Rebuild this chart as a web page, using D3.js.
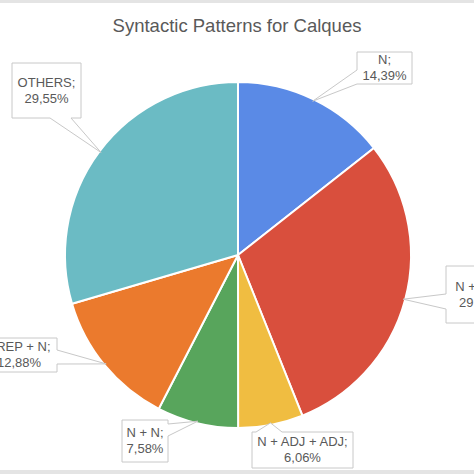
<!DOCTYPE html>
<html>
<head>
<meta charset="utf-8">
<script src="https://cdn.jsdelivr.net/npm/d3@7"></script>
<style>
  body { margin: 0; background: #fff; }
  svg { display: block; font-family: "Liberation Sans", Arial, sans-serif; }
</style>
</head>
<body>
<div id="chart"></div>
<script>
// data
var categories = ["N", "N + ADJ", "N + ADJ + ADJ", "N + N", "PREP + N", "OTHERS"];
var shares = [14.39, 29.54, 6.06, 7.58, 12.88, 29.55];
var colors = ["#5a8ae6", "#d94f3d", "#f0bd41", "#58a55c", "#eb7a2d", "#6bbbc4"];

// callout boxes (layout only): box x, y, w, h, side of tail, base start/end along that side
var callouts = [
  {x: 357, y: 52, w: 55, h: 32, side: "left", a: 70, b: 84},
  {x: 446, y: 266, w: 70, h: 57, side: "left", a: 294, b: 309},
  {x: 252, y: 432, w: 101, h: 36, side: "top", a: 256, b: 282},
  {x: 122, y: 420, w: 46, h: 42, side: "right", a: 424, b: 436},
  {x: -19, y: 338, w: 76, h: 34, side: "right", a: 350, b: 364},
  {x: 12, y: 63, w: 69, h: 55, side: "bottom", a: 50, b: 71}
];

var width = 474, height = 474;
var cx = 238, cy = 255, radius = 173;

var svg = d3.select("#chart").append("svg")
    .attr("width", width)
    .attr("height", height);

svg.append("rect").attr("width", width).attr("height", height).attr("fill", "#fff");
svg.append("rect").attr("x", 0).attr("y", 0).attr("width", width).attr("height", 3).attr("fill", "#e4e4e4");
svg.append("rect").attr("x", 0).attr("y", 470).attr("width", width).attr("height", 4).attr("fill", "#e4e4e4");

svg.append("text")
    .attr("x", 237)
    .attr("y", 32)
    .attr("text-anchor", "middle")
    .attr("font-size", "18.5px")
    .attr("fill", "#595959")
    .text("Syntactic Patterns for Calques");

var pie = d3.pie().sort(null).value(function(d) { return d; });
var arcs = pie(shares);

var arc = d3.arc().innerRadius(0).outerRadius(radius);
var edgeArc = d3.arc().innerRadius(radius - 2).outerRadius(radius - 2);

var g = svg.append("g").attr("transform", "translate(" + cx + "," + cy + ")");

g.selectAll("path.slice")
    .data(arcs).enter().append("path")
    .attr("class", "slice")
    .attr("d", arc)
    .attr("fill", function(d, i) { return colors[i]; })
    .attr("stroke", "#fff")
    .attr("stroke-width", 2)
    .attr("stroke-linejoin", "round");

// builds a rectangle outline with a pointer tail inserted on one side
function calloutPath(c, tx, ty) {
  var x0 = c.x, y0 = c.y, x1 = c.x + c.w, y1 = c.y + c.h;
  var p = [];
  p.push([x0, y0]);
  if (c.side == "top") { p.push([c.a, y0], [tx, ty], [c.b, y0]); }
  p.push([x1, y0]);
  if (c.side == "right") { p.push([x1, c.a], [tx, ty], [x1, c.b]); }
  p.push([x1, y1]);
  if (c.side == "bottom") { p.push([c.b, y1], [tx, ty], [c.a, y1]); }
  p.push([x0, y1]);
  if (c.side == "left") { p.push([x0, c.b], [tx, ty], [x0, c.a]); }
  return "M" + p.map(function(q) { return q[0] + "," + q[1]; }).join("L") + "Z";
}

var labels = svg.append("g");

arcs.forEach(function(d, i) {
  var c = callouts[i];
  var tip = edgeArc.centroid(d);
  var tx = cx + tip[0], ty = cy + tip[1];

  labels.append("path")
      .attr("d", calloutPath(c, tx, ty))
      .attr("fill", "#fff")
      .attr("stroke", "#c8c8c8")
      .attr("stroke-width", 1);

  var pct = shares[i].toFixed(2).replace(".", ",") + "%";
  var mid = c.x + c.w / 2;
  var top = c.y + c.h / 2 - 8;

  var t = labels.append("text")
      .attr("text-anchor", "middle")
      .attr("font-size", "13px")
      .attr("fill", "#595959");
  t.append("tspan").attr("x", mid).attr("y", top + 4).text(categories[i] + ";");
  t.append("tspan").attr("x", mid).attr("y", top + 20).text(pct);
});
</script>
</body>
</html>
